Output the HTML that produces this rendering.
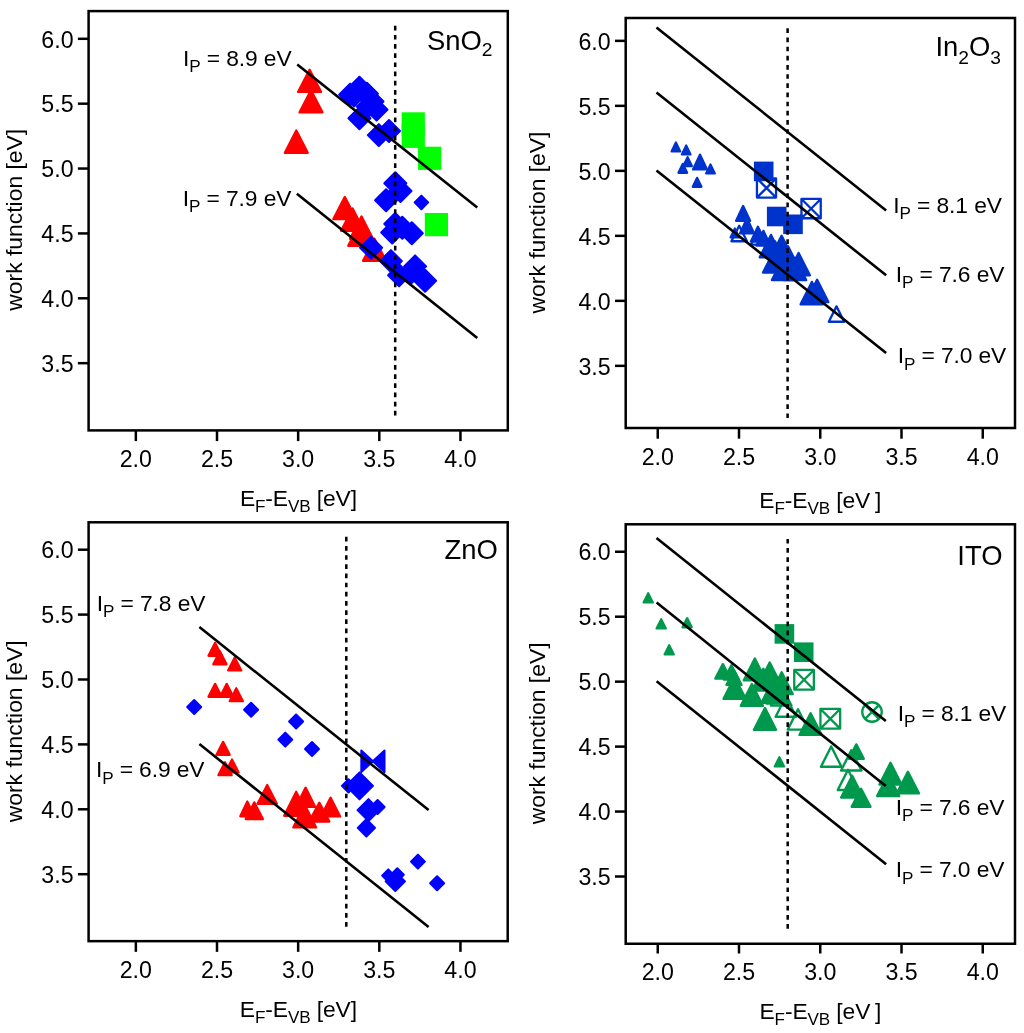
<!DOCTYPE html>
<html><head><meta charset="utf-8"><title>work function vs Fermi level</title>
<style>
html,body{margin:0;padding:0;background:#fff;}
svg{display:block;}
text{font-family:"Liberation Sans", Arial, Helvetica, sans-serif;fill:#000;}
</style></head><body>
<svg width="1024" height="1033" viewBox="0 0 1024 1033">
<rect x="0" y="0" width="1024" height="1033" fill="#fff"/>
<g id="p1">
<path d="M309.60 69.82L320.99 91.90L298.21 91.90Z" fill="#f00" stroke="#f00" stroke-width="2.4" stroke-linejoin="round"/>
<path d="M311.00 90.32L322.39 112.40L299.61 112.40Z" fill="#f00" stroke="#f00" stroke-width="2.4" stroke-linejoin="round"/>
<path d="M296.30 130.62L307.69 152.70L284.91 152.70Z" fill="#f00" stroke="#f00" stroke-width="2.4" stroke-linejoin="round"/>
<path d="M344.80 197.02L356.19 219.10L333.41 219.10Z" fill="#f00" stroke="#f00" stroke-width="2.4" stroke-linejoin="round"/>
<path d="M352.60 208.62L363.99 230.70L341.21 230.70Z" fill="#f00" stroke="#f00" stroke-width="2.4" stroke-linejoin="round"/>
<path d="M361.50 216.62L372.89 238.70L350.11 238.70Z" fill="#f00" stroke="#f00" stroke-width="2.4" stroke-linejoin="round"/>
<path d="M359.70 223.72L371.09 245.80L348.31 245.80Z" fill="#f00" stroke="#f00" stroke-width="2.4" stroke-linejoin="round"/>
<path d="M374.50 238.72L385.89 260.80L363.11 260.80Z" fill="#f00" stroke="#f00" stroke-width="2.4" stroke-linejoin="round"/>
<rect x="401.65" y="112.30" width="23.2" height="23.2" fill="#0f0"/>
<rect x="401.65" y="124.70" width="23.2" height="23.2" fill="#0f0"/>
<rect x="418.05" y="146.70" width="23.2" height="23.2" fill="#0f0"/>
<rect x="424.80" y="213.00" width="23.2" height="23.2" fill="#0f0"/>
<path d="M359.45 76.75L370.45 87.75L359.45 98.75L348.45 87.75Z" fill="#00f" stroke="#00f" stroke-width="2.0" stroke-linejoin="round"/>
<path d="M350.10 83.60L361.10 94.60L350.10 105.60L339.10 94.60Z" fill="#00f" stroke="#00f" stroke-width="2.0" stroke-linejoin="round"/>
<path d="M354.00 84.50L365.00 95.50L354.00 106.50L343.00 95.50Z" fill="#00f" stroke="#00f" stroke-width="2.0" stroke-linejoin="round"/>
<path d="M366.95 82.76L377.95 93.76L366.95 104.76L355.95 93.76Z" fill="#00f" stroke="#00f" stroke-width="2.0" stroke-linejoin="round"/>
<path d="M367.80 95.60L378.80 106.60L367.80 117.60L356.80 106.60Z" fill="#00f" stroke="#00f" stroke-width="2.0" stroke-linejoin="round"/>
<path d="M376.60 98.60L387.60 109.60L376.60 120.60L365.60 109.60Z" fill="#00f" stroke="#00f" stroke-width="2.0" stroke-linejoin="round"/>
<path d="M372.50 90.50L383.50 101.50L372.50 112.50L361.50 101.50Z" fill="#00f" stroke="#00f" stroke-width="2.0" stroke-linejoin="round"/>
<path d="M359.45 107.30L370.45 118.30L359.45 129.30L348.45 118.30Z" fill="#00f" stroke="#00f" stroke-width="2.0" stroke-linejoin="round"/>
<path d="M378.80 124.15L389.80 135.15L378.80 146.15L367.80 135.15Z" fill="#00f" stroke="#00f" stroke-width="2.0" stroke-linejoin="round"/>
<path d="M389.00 120.00L400.00 131.00L389.00 142.00L378.00 131.00Z" fill="#00f" stroke="#00f" stroke-width="2.0" stroke-linejoin="round"/>
<path d="M395.30 172.20L406.30 183.20L395.30 194.20L384.30 183.20Z" fill="#00f" stroke="#00f" stroke-width="2.0" stroke-linejoin="round"/>
<path d="M400.50 180.00L411.50 191.00L400.50 202.00L389.50 191.00Z" fill="#00f" stroke="#00f" stroke-width="2.0" stroke-linejoin="round"/>
<path d="M386.10 189.30L397.10 200.30L386.10 211.30L375.10 200.30Z" fill="#00f" stroke="#00f" stroke-width="2.0" stroke-linejoin="round"/>
<path d="M395.20 212.90L406.20 223.90L395.20 234.90L384.20 223.90Z" fill="#00f" stroke="#00f" stroke-width="2.0" stroke-linejoin="round"/>
<path d="M392.20 221.50L403.20 232.50L392.20 243.50L381.20 232.50Z" fill="#00f" stroke="#00f" stroke-width="2.0" stroke-linejoin="round"/>
<path d="M411.80 222.25L422.80 233.25L411.80 244.25L400.80 233.25Z" fill="#00f" stroke="#00f" stroke-width="2.0" stroke-linejoin="round"/>
<path d="M402.30 216.80L413.30 227.80L402.30 238.80L391.30 227.80Z" fill="#00f" stroke="#00f" stroke-width="2.0" stroke-linejoin="round"/>
<path d="M421.40 195.60L428.20 202.40L421.40 209.20L414.60 202.40Z" fill="#00f" stroke="#00f" stroke-width="2.0" stroke-linejoin="round"/>
<path d="M371.10 236.70L382.10 247.70L371.10 258.70L360.10 247.70Z" fill="#00f" stroke="#00f" stroke-width="2.0" stroke-linejoin="round"/>
<path d="M390.90 250.10L401.90 261.10L390.90 272.10L379.90 261.10Z" fill="#00f" stroke="#00f" stroke-width="2.0" stroke-linejoin="round"/>
<path d="M399.10 264.30L410.10 275.30L399.10 286.30L388.10 275.30Z" fill="#00f" stroke="#00f" stroke-width="2.0" stroke-linejoin="round"/>
<path d="M415.10 255.40L426.10 266.40L415.10 277.40L404.10 266.40Z" fill="#00f" stroke="#00f" stroke-width="2.0" stroke-linejoin="round"/>
<path d="M425.10 269.80L436.10 280.80L425.10 291.80L414.10 280.80Z" fill="#00f" stroke="#00f" stroke-width="2.0" stroke-linejoin="round"/>
<path d="M410.70 262.00L421.70 273.00L410.70 284.00L399.70 273.00Z" fill="#00f" stroke="#00f" stroke-width="2.0" stroke-linejoin="round"/>
<line x1="297.25" y1="64.50" x2="477.25" y2="207.50" stroke="#000" stroke-width="2.6"/>
<line x1="296.90" y1="193.80" x2="477.25" y2="338.00" stroke="#000" stroke-width="2.6"/>
<line x1="395.20" y1="25.74" x2="395.20" y2="415.56" stroke="#000" stroke-width="2.5" stroke-dasharray="4.7 4.4695"/>
<rect x="88.6" y="11.1" width="419.20" height="419.30" fill="none" stroke="#000" stroke-width="2.5"/>
<line x1="77.90" y1="363.18" x2="88.6" y2="363.18" stroke="#000" stroke-width="2.5"/>
<text x="73.60" y="371.88" font-size="23.2" text-anchor="end">3.5</text>
<line x1="77.90" y1="298.30" x2="88.6" y2="298.30" stroke="#000" stroke-width="2.5"/>
<text x="73.60" y="307.00" font-size="23.2" text-anchor="end">4.0</text>
<line x1="77.90" y1="233.43" x2="88.6" y2="233.43" stroke="#000" stroke-width="2.5"/>
<text x="73.60" y="242.12" font-size="23.2" text-anchor="end">4.5</text>
<line x1="77.90" y1="168.55" x2="88.6" y2="168.55" stroke="#000" stroke-width="2.5"/>
<text x="73.60" y="177.25" font-size="23.2" text-anchor="end">5.0</text>
<line x1="77.90" y1="103.67" x2="88.6" y2="103.67" stroke="#000" stroke-width="2.5"/>
<text x="73.60" y="112.38" font-size="23.2" text-anchor="end">5.5</text>
<line x1="77.90" y1="38.80" x2="88.6" y2="38.80" stroke="#000" stroke-width="2.5"/>
<text x="73.60" y="47.50" font-size="23.2" text-anchor="end">6.0</text>
<line x1="135.85" y1="430.4" x2="135.85" y2="441.10" stroke="#000" stroke-width="2.5"/>
<text x="135.85" y="466.80" font-size="23.2" text-anchor="middle">2.0</text>
<line x1="217.00" y1="430.4" x2="217.00" y2="441.10" stroke="#000" stroke-width="2.5"/>
<text x="217.00" y="466.80" font-size="23.2" text-anchor="middle">2.5</text>
<line x1="298.15" y1="430.4" x2="298.15" y2="441.10" stroke="#000" stroke-width="2.5"/>
<text x="298.15" y="466.80" font-size="23.2" text-anchor="middle">3.0</text>
<line x1="379.30" y1="430.4" x2="379.30" y2="441.10" stroke="#000" stroke-width="2.5"/>
<text x="379.30" y="466.80" font-size="23.2" text-anchor="middle">3.5</text>
<line x1="460.45" y1="430.4" x2="460.45" y2="441.10" stroke="#000" stroke-width="2.5"/>
<text x="460.45" y="466.80" font-size="23.2" text-anchor="middle">4.0</text>
<text x="183.0" y="65.80" font-size="22.8" letter-spacing="-0.1">I<tspan font-size="17.1" dy="6.4">P</tspan><tspan dy="-6.4"> = 8.9 eV</tspan></text>
<text x="182.8" y="205.80" font-size="22.8" letter-spacing="-0.1">I<tspan font-size="17.1" dy="6.4">P</tspan><tspan dy="-6.4"> = 7.9 eV</tspan></text>
<text x="427.00" y="49.70" font-size="27.4">SnO<tspan font-size="19.2" dy="6.7">2</tspan></text>
<text x="298.45" y="505.60" font-size="22.8" letter-spacing="-0.1" text-anchor="middle">E<tspan font-size="17.1" dy="6.4">F</tspan><tspan dy="-6.4">-E</tspan><tspan font-size="17.1" dy="6.4">VB</tspan><tspan dy="-6.4"> [eV]</tspan></text>
<text transform="translate(22.40 219.75) rotate(-90)" font-size="22.9" text-anchor="middle">work function [eV]</text>
</g>
<g id="p2">
<path d="M739.20 225.66L746.99 241.25L731.41 241.25Z" fill="none" stroke="#0033cc" stroke-width="2.3" stroke-linejoin="round"/>
<path d="M758.70 229.06L766.49 244.65L750.91 244.65Z" fill="none" stroke="#0033cc" stroke-width="2.3" stroke-linejoin="round"/>
<path d="M775.00 241.26L782.79 256.85L767.21 256.85Z" fill="none" stroke="#0033cc" stroke-width="2.3" stroke-linejoin="round"/>
<path d="M675.90 142.41L680.25 151.40L671.55 151.40Z" fill="#0033cc" stroke="#0033cc" stroke-width="2.2" stroke-linejoin="round"/>
<path d="M686.20 145.41L690.55 154.40L681.86 154.40Z" fill="#0033cc" stroke="#0033cc" stroke-width="2.2" stroke-linejoin="round"/>
<path d="M687.60 157.11L691.95 166.10L683.25 166.10Z" fill="#0033cc" stroke="#0033cc" stroke-width="2.2" stroke-linejoin="round"/>
<path d="M682.80 163.81L687.14 172.80L678.45 172.80Z" fill="#0033cc" stroke="#0033cc" stroke-width="2.2" stroke-linejoin="round"/>
<path d="M710.50 164.41L714.85 173.40L706.15 173.40Z" fill="#0033cc" stroke="#0033cc" stroke-width="2.2" stroke-linejoin="round"/>
<path d="M697.10 177.81L701.45 186.80L692.75 186.80Z" fill="#0033cc" stroke="#0033cc" stroke-width="2.2" stroke-linejoin="round"/>
<path d="M700.00 154.72L706.94 169.40L693.06 169.40Z" fill="#0033cc" stroke="#0033cc" stroke-width="2.4" stroke-linejoin="round"/>
<path d="M734.90 228.41L739.25 237.40L730.55 237.40Z" fill="#0033cc" stroke="#0033cc" stroke-width="2.2" stroke-linejoin="round"/>
<path d="M743.10 206.12L750.04 220.80L736.16 220.80Z" fill="#0033cc" stroke="#0033cc" stroke-width="2.4" stroke-linejoin="round"/>
<path d="M747.00 218.62L753.94 233.30L740.06 233.30Z" fill="#0033cc" stroke="#0033cc" stroke-width="2.4" stroke-linejoin="round"/>
<path d="M757.90 226.82L764.84 241.50L750.96 241.50Z" fill="#0033cc" stroke="#0033cc" stroke-width="2.4" stroke-linejoin="round"/>
<path d="M763.40 230.92L770.34 245.60L756.46 245.60Z" fill="#0033cc" stroke="#0033cc" stroke-width="2.4" stroke-linejoin="round"/>
<path d="M771.00 234.92L782.24 257.20L759.76 257.20Z" fill="#0033cc" stroke="#0033cc" stroke-width="2.4" stroke-linejoin="round"/>
<path d="M781.60 235.72L792.84 258.00L770.36 258.00Z" fill="#0033cc" stroke="#0033cc" stroke-width="2.4" stroke-linejoin="round"/>
<path d="M774.30 250.32L785.54 272.60L763.06 272.60Z" fill="#0033cc" stroke="#0033cc" stroke-width="2.4" stroke-linejoin="round"/>
<path d="M783.20 257.82L794.44 280.10L771.96 280.10Z" fill="#0033cc" stroke="#0033cc" stroke-width="2.4" stroke-linejoin="round"/>
<path d="M794.90 257.82L806.14 280.10L783.66 280.10Z" fill="#0033cc" stroke="#0033cc" stroke-width="2.4" stroke-linejoin="round"/>
<path d="M798.60 253.02L809.84 275.30L787.36 275.30Z" fill="#0033cc" stroke="#0033cc" stroke-width="2.4" stroke-linejoin="round"/>
<path d="M788.00 246.32L799.24 268.60L776.76 268.60Z" fill="#0033cc" stroke="#0033cc" stroke-width="2.4" stroke-linejoin="round"/>
<path d="M817.10 279.72L828.34 302.00L805.86 302.00Z" fill="#0033cc" stroke="#0033cc" stroke-width="2.4" stroke-linejoin="round"/>
<path d="M811.90 281.92L823.14 304.20L800.66 304.20Z" fill="#0033cc" stroke="#0033cc" stroke-width="2.4" stroke-linejoin="round"/>
<path d="M836.50 306.37L844.19 321.75L828.81 321.75Z" fill="none" stroke="#0033cc" stroke-width="2.3" stroke-linejoin="round"/>
<rect x="753.90" y="161.60" width="19.6" height="19.6" fill="#0033cc"/>
<rect x="766.90" y="206.70" width="19.6" height="19.6" fill="#0033cc"/>
<rect x="783.20" y="214.50" width="19.6" height="19.6" fill="#0033cc"/>
<path d="M756.95 178.45h19.10v19.10h-19.10ZM756.95 178.45l19.10 19.10M776.05 178.45l-19.10 19.10" fill="none" stroke="#0033cc" stroke-width="2.3" stroke-linejoin="round"/>
<path d="M801.45 198.95h19.30v19.30h-19.30ZM801.45 198.95l19.30 19.30M820.75 198.95l-19.30 19.30" fill="none" stroke="#0033cc" stroke-width="2.3" stroke-linejoin="round"/>
<line x1="656.50" y1="27.50" x2="886.15" y2="210.60" stroke="#000" stroke-width="2.6"/>
<line x1="656.50" y1="92.50" x2="886.15" y2="275.30" stroke="#000" stroke-width="2.6"/>
<line x1="656.50" y1="170.50" x2="886.15" y2="353.00" stroke="#000" stroke-width="2.6"/>
<line x1="787.60" y1="28.30" x2="787.60" y2="418.10" stroke="#000" stroke-width="2.5" stroke-dasharray="4.7 4.4690"/>
<rect x="625.7" y="18.0" width="389.30" height="410.00" fill="none" stroke="#000" stroke-width="2.5"/>
<line x1="615.00" y1="365.85" x2="625.7" y2="365.85" stroke="#000" stroke-width="2.5"/>
<text x="610.70" y="374.55" font-size="23.2" text-anchor="end">3.5</text>
<line x1="615.00" y1="300.85" x2="625.7" y2="300.85" stroke="#000" stroke-width="2.5"/>
<text x="610.70" y="309.55" font-size="23.2" text-anchor="end">4.0</text>
<line x1="615.00" y1="235.85" x2="625.7" y2="235.85" stroke="#000" stroke-width="2.5"/>
<text x="610.70" y="244.55" font-size="23.2" text-anchor="end">4.5</text>
<line x1="615.00" y1="170.85" x2="625.7" y2="170.85" stroke="#000" stroke-width="2.5"/>
<text x="610.70" y="179.55" font-size="23.2" text-anchor="end">5.0</text>
<line x1="615.00" y1="105.85" x2="625.7" y2="105.85" stroke="#000" stroke-width="2.5"/>
<text x="610.70" y="114.55" font-size="23.2" text-anchor="end">5.5</text>
<line x1="615.00" y1="40.85" x2="625.7" y2="40.85" stroke="#000" stroke-width="2.5"/>
<text x="610.70" y="49.55" font-size="23.2" text-anchor="end">6.0</text>
<line x1="657.75" y1="428" x2="657.75" y2="438.70" stroke="#000" stroke-width="2.5"/>
<text x="657.75" y="464.70" font-size="23.2" text-anchor="middle">2.0</text>
<line x1="739.00" y1="428" x2="739.00" y2="438.70" stroke="#000" stroke-width="2.5"/>
<text x="739.00" y="464.70" font-size="23.2" text-anchor="middle">2.5</text>
<line x1="820.25" y1="428" x2="820.25" y2="438.70" stroke="#000" stroke-width="2.5"/>
<text x="820.25" y="464.70" font-size="23.2" text-anchor="middle">3.0</text>
<line x1="901.50" y1="428" x2="901.50" y2="438.70" stroke="#000" stroke-width="2.5"/>
<text x="901.50" y="464.70" font-size="23.2" text-anchor="middle">3.5</text>
<line x1="982.75" y1="428" x2="982.75" y2="438.70" stroke="#000" stroke-width="2.5"/>
<text x="982.75" y="464.70" font-size="23.2" text-anchor="middle">4.0</text>
<text x="893.3" y="213.00" font-size="22.8" letter-spacing="-0.1">I<tspan font-size="17.1" dy="6.4">P</tspan><tspan dy="-6.4"> = 8.1 eV</tspan></text>
<text x="895.8" y="281.80" font-size="22.8" letter-spacing="-0.1">I<tspan font-size="17.1" dy="6.4">P</tspan><tspan dy="-6.4"> = 7.6 eV</tspan></text>
<text x="897.7" y="363.20" font-size="22.8" letter-spacing="-0.1">I<tspan font-size="17.1" dy="6.4">P</tspan><tspan dy="-6.4"> = 7.0 eV</tspan></text>
<text x="935.50" y="56.20" font-size="27.4">In<tspan font-size="19.2" dy="7.9">2</tspan><tspan dy="-7.9">O</tspan><tspan font-size="19.2" dy="7.9">3</tspan></text>
<text x="820.30" y="508.00" font-size="22.8" letter-spacing="-0.1" text-anchor="middle">E<tspan font-size="17.1" dy="6.4">F</tspan><tspan dy="-6.4">-E</tspan><tspan font-size="17.1" dy="6.4">VB</tspan><tspan dy="-6.4"> [eV <tspan dx="-1.4">]</tspan></tspan></text>
<text transform="translate(545.00 222.50) rotate(-90)" font-size="22.9" text-anchor="middle">work function [eV]</text>
</g>
<g id="p3">
<path d="M215.10 642.81L221.75 655.80L208.45 655.80Z" fill="#ff0000" stroke="#ff0000" stroke-width="2.2" stroke-linejoin="round"/>
<path d="M219.90 651.31L226.55 664.30L213.25 664.30Z" fill="#ff0000" stroke="#ff0000" stroke-width="2.2" stroke-linejoin="round"/>
<path d="M234.70 657.41L241.34 670.40L228.05 670.40Z" fill="#ff0000" stroke="#ff0000" stroke-width="2.2" stroke-linejoin="round"/>
<path d="M215.10 683.81L221.75 696.80L208.45 696.80Z" fill="#ff0000" stroke="#ff0000" stroke-width="2.2" stroke-linejoin="round"/>
<path d="M226.70 683.81L233.34 696.80L220.05 696.80Z" fill="#ff0000" stroke="#ff0000" stroke-width="2.2" stroke-linejoin="round"/>
<path d="M236.30 688.21L242.95 701.20L229.66 701.20Z" fill="#ff0000" stroke="#ff0000" stroke-width="2.2" stroke-linejoin="round"/>
<path d="M223.10 741.81L229.75 754.80L216.45 754.80Z" fill="#ff0000" stroke="#ff0000" stroke-width="2.2" stroke-linejoin="round"/>
<path d="M232.00 759.41L238.65 772.40L225.35 772.40Z" fill="#ff0000" stroke="#ff0000" stroke-width="2.2" stroke-linejoin="round"/>
<path d="M225.00 762.21L231.65 775.20L218.35 775.20Z" fill="#ff0000" stroke="#ff0000" stroke-width="2.2" stroke-linejoin="round"/>
<path d="M267.20 785.01L276.90 803.80L257.50 803.80Z" fill="#ff0000" stroke="#ff0000" stroke-width="2.2" stroke-linejoin="round"/>
<path d="M247.30 801.41L254.34 816.30L240.26 816.30Z" fill="#ff0000" stroke="#ff0000" stroke-width="2.2" stroke-linejoin="round"/>
<path d="M254.30 802.31L262.90 819.10L245.71 819.10Z" fill="#ff0000" stroke="#ff0000" stroke-width="2.2" stroke-linejoin="round"/>
<path d="M296.20 791.71L308.30 815.80L284.10 815.80Z" fill="#ff0000" stroke="#ff0000" stroke-width="2.2" stroke-linejoin="round"/>
<path d="M305.60 787.61L315.30 807.00L295.90 807.00Z" fill="#ff0000" stroke="#ff0000" stroke-width="2.2" stroke-linejoin="round"/>
<path d="M304.70 804.71L316.15 827.40L293.25 827.40Z" fill="#ff0000" stroke="#ff0000" stroke-width="2.2" stroke-linejoin="round"/>
<path d="M319.30 802.61L329.40 821.60L309.20 821.60Z" fill="#ff0000" stroke="#ff0000" stroke-width="2.2" stroke-linejoin="round"/>
<path d="M330.55 797.61L340.20 816.40L320.90 816.40Z" fill="#ff0000" stroke="#ff0000" stroke-width="2.2" stroke-linejoin="round"/>
<path d="M194.20 700.00L201.20 707.00L194.20 714.00L187.20 707.00Z" fill="#00f" stroke="#00f" stroke-width="2.0" stroke-linejoin="round"/>
<path d="M251.10 702.70L258.10 709.70L251.10 716.70L244.10 709.70Z" fill="#00f" stroke="#00f" stroke-width="2.0" stroke-linejoin="round"/>
<path d="M296.10 714.45L303.10 721.45L296.10 728.45L289.10 721.45Z" fill="#00f" stroke="#00f" stroke-width="2.0" stroke-linejoin="round"/>
<path d="M285.30 732.60L292.30 739.60L285.30 746.60L278.30 739.60Z" fill="#00f" stroke="#00f" stroke-width="2.0" stroke-linejoin="round"/>
<path d="M312.00 742.00L319.00 749.00L312.00 756.00L305.00 749.00Z" fill="#00f" stroke="#00f" stroke-width="2.0" stroke-linejoin="round"/>
<path d="M359.50 772.40L373.00 785.90L359.50 799.40L346.00 785.90Z" fill="#00f" stroke="#00f" stroke-width="2.0" stroke-linejoin="round"/>
<path d="M348.50 779.30L355.10 785.90L348.50 792.50L341.90 785.90Z" fill="#00f" stroke="#00f" stroke-width="2.0" stroke-linejoin="round"/>
<path d="M368.50 799.10L379.50 810.10L368.50 821.10L357.50 810.10Z" fill="#00f" stroke="#00f" stroke-width="2.0" stroke-linejoin="round"/>
<path d="M377.60 800.00L384.60 807.00L377.60 814.00L370.60 807.00Z" fill="#00f" stroke="#00f" stroke-width="2.0" stroke-linejoin="round"/>
<path d="M366.40 819.20L375.10 827.90L366.40 836.60L357.70 827.90Z" fill="#00f" stroke="#00f" stroke-width="2.0" stroke-linejoin="round"/>
<path d="M417.90 854.60L424.90 861.60L417.90 868.60L410.90 861.60Z" fill="#00f" stroke="#00f" stroke-width="2.0" stroke-linejoin="round"/>
<path d="M437.10 876.30L444.10 883.30L437.10 890.30L430.10 883.30Z" fill="#00f" stroke="#00f" stroke-width="2.0" stroke-linejoin="round"/>
<path d="M388.30 869.40L394.50 875.60L388.30 881.80L382.10 875.60Z" fill="#00f" stroke="#00f" stroke-width="2.0" stroke-linejoin="round"/>
<path d="M397.30 868.30L403.80 874.80L397.30 881.30L390.80 874.80Z" fill="#00f" stroke="#00f" stroke-width="2.0" stroke-linejoin="round"/>
<path d="M395.30 871.65L405.00 881.35L395.30 891.05L385.60 881.35Z" fill="#00f" stroke="#00f" stroke-width="2.0" stroke-linejoin="round"/>
<path d="M361.30 750.40L372.90 761.25L361.30 772.10ZM384.50 750.40L372.90 761.25L384.50 772.10Z" fill="#00f" stroke="#00f" stroke-width="2" stroke-linejoin="round"/>
<line x1="199.40" y1="627.10" x2="428.60" y2="810.10" stroke="#000" stroke-width="2.6"/>
<line x1="199.40" y1="744.10" x2="428.60" y2="927.00" stroke="#000" stroke-width="2.6"/>
<line x1="346.30" y1="536.80" x2="346.30" y2="926.80" stroke="#000" stroke-width="2.5" stroke-dasharray="4.7 4.4738"/>
<rect x="88.6" y="522.3" width="419.10" height="418.85" fill="none" stroke="#000" stroke-width="2.5"/>
<line x1="77.90" y1="874.20" x2="88.6" y2="874.20" stroke="#000" stroke-width="2.5"/>
<text x="73.60" y="882.90" font-size="23.2" text-anchor="end">3.5</text>
<line x1="77.90" y1="809.30" x2="88.6" y2="809.30" stroke="#000" stroke-width="2.5"/>
<text x="73.60" y="818.00" font-size="23.2" text-anchor="end">4.0</text>
<line x1="77.90" y1="744.40" x2="88.6" y2="744.40" stroke="#000" stroke-width="2.5"/>
<text x="73.60" y="753.10" font-size="23.2" text-anchor="end">4.5</text>
<line x1="77.90" y1="679.50" x2="88.6" y2="679.50" stroke="#000" stroke-width="2.5"/>
<text x="73.60" y="688.20" font-size="23.2" text-anchor="end">5.0</text>
<line x1="77.90" y1="614.60" x2="88.6" y2="614.60" stroke="#000" stroke-width="2.5"/>
<text x="73.60" y="623.30" font-size="23.2" text-anchor="end">5.5</text>
<line x1="77.90" y1="549.70" x2="88.6" y2="549.70" stroke="#000" stroke-width="2.5"/>
<text x="73.60" y="558.40" font-size="23.2" text-anchor="end">6.0</text>
<line x1="135.85" y1="941.15" x2="135.85" y2="951.85" stroke="#000" stroke-width="2.5"/>
<text x="135.85" y="977.85" font-size="23.2" text-anchor="middle">2.0</text>
<line x1="217.00" y1="941.15" x2="217.00" y2="951.85" stroke="#000" stroke-width="2.5"/>
<text x="217.00" y="977.85" font-size="23.2" text-anchor="middle">2.5</text>
<line x1="298.15" y1="941.15" x2="298.15" y2="951.85" stroke="#000" stroke-width="2.5"/>
<text x="298.15" y="977.85" font-size="23.2" text-anchor="middle">3.0</text>
<line x1="379.30" y1="941.15" x2="379.30" y2="951.85" stroke="#000" stroke-width="2.5"/>
<text x="379.30" y="977.85" font-size="23.2" text-anchor="middle">3.5</text>
<line x1="460.45" y1="941.15" x2="460.45" y2="951.85" stroke="#000" stroke-width="2.5"/>
<text x="460.45" y="977.85" font-size="23.2" text-anchor="middle">4.0</text>
<text x="96.8" y="610.90" font-size="22.8" letter-spacing="-0.1">I<tspan font-size="17.1" dy="6.4">P</tspan><tspan dy="-6.4"> = 7.8 eV</tspan></text>
<text x="95.9" y="777.10" font-size="22.8" letter-spacing="-0.1">I<tspan font-size="17.1" dy="6.4">P</tspan><tspan dy="-6.4"> = 6.9 eV</tspan></text>
<text x="444.50" y="559.40" font-size="27.4">ZnO</text>
<text x="298.35" y="1016.70" font-size="22.8" letter-spacing="-0.1" text-anchor="middle">E<tspan font-size="17.1" dy="6.4">F</tspan><tspan dy="-6.4">-E</tspan><tspan font-size="17.1" dy="6.4">VB</tspan><tspan dy="-6.4"> [eV]</tspan></text>
<text transform="translate(22.40 731.30) rotate(-90)" font-size="22.9" text-anchor="middle">work function [eV]</text>
</g>
<g id="p4">
<path d="M781.20 685.32L791.44 705.60L770.96 705.60Z" fill="none" stroke="#00984c" stroke-width="2.4" stroke-linejoin="round"/>
<path d="M785.90 696.52L796.14 716.80L775.66 716.80Z" fill="none" stroke="#00984c" stroke-width="2.4" stroke-linejoin="round"/>
<path d="M798.00 709.32L808.24 729.60L787.76 729.60Z" fill="none" stroke="#00984c" stroke-width="2.4" stroke-linejoin="round"/>
<path d="M831.20 746.42L841.44 766.70L820.96 766.70Z" fill="none" stroke="#00984c" stroke-width="2.4" stroke-linejoin="round"/>
<path d="M851.30 750.22L861.54 770.50L841.06 770.50Z" fill="none" stroke="#00984c" stroke-width="2.4" stroke-linejoin="round"/>
<path d="M848.00 769.72L858.24 790.00L837.76 790.00Z" fill="none" stroke="#00984c" stroke-width="2.4" stroke-linejoin="round"/>
<path d="M648.20 593.21L652.85 602.40L643.56 602.40Z" fill="#00984c" stroke="#00984c" stroke-width="2.2" stroke-linejoin="round"/>
<path d="M661.20 619.21L665.85 628.40L656.56 628.40Z" fill="#00984c" stroke="#00984c" stroke-width="2.2" stroke-linejoin="round"/>
<path d="M687.15 618.11L691.79 627.30L682.50 627.30Z" fill="#00984c" stroke="#00984c" stroke-width="2.2" stroke-linejoin="round"/>
<path d="M669.20 645.21L673.85 654.40L664.56 654.40Z" fill="#00984c" stroke="#00984c" stroke-width="2.2" stroke-linejoin="round"/>
<path d="M779.40 757.21L784.04 766.40L774.75 766.40Z" fill="#00984c" stroke="#00984c" stroke-width="2.2" stroke-linejoin="round"/>
<path d="M722.85 664.17L730.34 678.45L715.36 678.45Z" fill="#00984c" stroke="#00984c" stroke-width="2.4" stroke-linejoin="round"/>
<path d="M731.40 665.32L738.89 679.60L723.91 679.60Z" fill="#00984c" stroke="#00984c" stroke-width="2.4" stroke-linejoin="round"/>
<path d="M734.00 670.62L741.49 684.90L726.51 684.90Z" fill="#00984c" stroke="#00984c" stroke-width="2.4" stroke-linejoin="round"/>
<path d="M856.30 744.42L863.79 758.70L848.81 758.70Z" fill="#00984c" stroke="#00984c" stroke-width="2.4" stroke-linejoin="round"/>
<path d="M734.60 677.12L745.64 698.80L723.56 698.80Z" fill="#00984c" stroke="#00984c" stroke-width="2.4" stroke-linejoin="round"/>
<path d="M751.90 684.12L762.94 705.80L740.86 705.80Z" fill="#00984c" stroke="#00984c" stroke-width="2.4" stroke-linejoin="round"/>
<path d="M754.85 658.62L765.89 680.30L743.81 680.30Z" fill="#00984c" stroke="#00984c" stroke-width="2.4" stroke-linejoin="round"/>
<path d="M763.30 668.82L774.34 690.50L752.26 690.50Z" fill="#00984c" stroke="#00984c" stroke-width="2.4" stroke-linejoin="round"/>
<path d="M769.70 662.62L780.74 684.30L758.66 684.30Z" fill="#00984c" stroke="#00984c" stroke-width="2.4" stroke-linejoin="round"/>
<path d="M781.70 672.37L792.74 694.05L770.66 694.05Z" fill="#00984c" stroke="#00984c" stroke-width="2.4" stroke-linejoin="round"/>
<path d="M772.50 681.12L783.54 702.80L761.46 702.80Z" fill="#00984c" stroke="#00984c" stroke-width="2.4" stroke-linejoin="round"/>
<path d="M777.50 681.82L788.54 703.50L766.46 703.50Z" fill="#00984c" stroke="#00984c" stroke-width="2.4" stroke-linejoin="round"/>
<path d="M765.00 708.12L776.04 729.80L753.96 729.80Z" fill="#00984c" stroke="#00984c" stroke-width="2.4" stroke-linejoin="round"/>
<path d="M810.60 713.22L821.64 734.90L799.56 734.90Z" fill="#00984c" stroke="#00984c" stroke-width="2.4" stroke-linejoin="round"/>
<path d="M852.20 775.82L863.24 797.50L841.16 797.50Z" fill="#00984c" stroke="#00984c" stroke-width="2.4" stroke-linejoin="round"/>
<path d="M890.50 762.82L901.54 784.50L879.46 784.50Z" fill="#00984c" stroke="#00984c" stroke-width="2.4" stroke-linejoin="round"/>
<path d="M888.20 774.42L899.24 796.10L877.16 796.10Z" fill="#00984c" stroke="#00984c" stroke-width="2.4" stroke-linejoin="round"/>
<path d="M907.90 771.72L918.94 793.40L896.86 793.40Z" fill="#00984c" stroke="#00984c" stroke-width="2.4" stroke-linejoin="round"/>
<path d="M861.10 788.82L870.49 806.80L851.71 806.80Z" fill="#00984c" stroke="#00984c" stroke-width="2.4" stroke-linejoin="round"/>
<rect x="774.60" y="624.10" width="19.6" height="19.6" fill="#00984c"/>
<rect x="793.90" y="642.40" width="19.6" height="19.6" fill="#00984c"/>
<path d="M794.25 669.95h19.60v19.60h-19.60ZM794.25 669.95l19.60 19.60M813.85 669.95l-19.60 19.60" fill="none" stroke="#00984c" stroke-width="2.3" stroke-linejoin="round"/>
<path d="M820.45 708.95h19.70v19.70h-19.70ZM820.45 708.95l19.70 19.70M840.15 708.95l-19.70 19.70" fill="none" stroke="#00984c" stroke-width="2.3" stroke-linejoin="round"/>
<circle cx="872.00" cy="712.00" r="9.75" fill="none" stroke="#00984c" stroke-width="2.3"/>
<path d="M865.11 705.11L878.89 718.89M878.89 705.11L865.11 718.89" fill="none" stroke="#00984c" stroke-width="2.3"/>
<line x1="656.50" y1="538.00" x2="885.80" y2="721.10" stroke="#000" stroke-width="2.6"/>
<line x1="656.60" y1="602.60" x2="885.80" y2="786.10" stroke="#000" stroke-width="2.6"/>
<line x1="656.60" y1="681.20" x2="886.15" y2="864.30" stroke="#000" stroke-width="2.6"/>
<line x1="787.70" y1="538.90" x2="787.70" y2="928.80" stroke="#000" stroke-width="2.5" stroke-dasharray="4.7 4.4714"/>
<rect x="625.7" y="524.3" width="389.30" height="419.45" fill="none" stroke="#000" stroke-width="2.5"/>
<line x1="615.00" y1="876.50" x2="625.7" y2="876.50" stroke="#000" stroke-width="2.5"/>
<text x="610.70" y="885.20" font-size="23.2" text-anchor="end">3.5</text>
<line x1="615.00" y1="811.55" x2="625.7" y2="811.55" stroke="#000" stroke-width="2.5"/>
<text x="610.70" y="820.25" font-size="23.2" text-anchor="end">4.0</text>
<line x1="615.00" y1="746.60" x2="625.7" y2="746.60" stroke="#000" stroke-width="2.5"/>
<text x="610.70" y="755.30" font-size="23.2" text-anchor="end">4.5</text>
<line x1="615.00" y1="681.65" x2="625.7" y2="681.65" stroke="#000" stroke-width="2.5"/>
<text x="610.70" y="690.35" font-size="23.2" text-anchor="end">5.0</text>
<line x1="615.00" y1="616.70" x2="625.7" y2="616.70" stroke="#000" stroke-width="2.5"/>
<text x="610.70" y="625.40" font-size="23.2" text-anchor="end">5.5</text>
<line x1="615.00" y1="551.75" x2="625.7" y2="551.75" stroke="#000" stroke-width="2.5"/>
<text x="610.70" y="560.45" font-size="23.2" text-anchor="end">6.0</text>
<line x1="657.75" y1="943.75" x2="657.75" y2="953.50" stroke="#000" stroke-width="2.5"/>
<text x="657.75" y="980.00" font-size="23.2" text-anchor="middle">2.0</text>
<line x1="739.00" y1="943.75" x2="739.00" y2="953.50" stroke="#000" stroke-width="2.5"/>
<text x="739.00" y="980.00" font-size="23.2" text-anchor="middle">2.5</text>
<line x1="820.25" y1="943.75" x2="820.25" y2="953.50" stroke="#000" stroke-width="2.5"/>
<text x="820.25" y="980.00" font-size="23.2" text-anchor="middle">3.0</text>
<line x1="901.50" y1="943.75" x2="901.50" y2="953.50" stroke="#000" stroke-width="2.5"/>
<text x="901.50" y="980.00" font-size="23.2" text-anchor="middle">3.5</text>
<line x1="982.75" y1="943.75" x2="982.75" y2="953.50" stroke="#000" stroke-width="2.5"/>
<text x="982.75" y="980.00" font-size="23.2" text-anchor="middle">4.0</text>
<text x="897.7" y="720.50" font-size="22.8" letter-spacing="-0.1">I<tspan font-size="17.1" dy="6.4">P</tspan><tspan dy="-6.4"> = 8.1 eV</tspan></text>
<text x="895.8" y="814.50" font-size="22.8" letter-spacing="-0.1">I<tspan font-size="17.1" dy="6.4">P</tspan><tspan dy="-6.4"> = 7.6 eV</tspan></text>
<text x="895.8" y="877.40" font-size="22.8" letter-spacing="-0.1">I<tspan font-size="17.1" dy="6.4">P</tspan><tspan dy="-6.4"> = 7.0 eV</tspan></text>
<text x="957.30" y="565.20" font-size="27.4">ITO</text>
<text x="820.40" y="1018.75" font-size="22.8" letter-spacing="-0.1" text-anchor="middle">E<tspan font-size="17.1" dy="6.4">F</tspan><tspan dy="-6.4">-E</tspan><tspan font-size="17.1" dy="6.4">VB</tspan><tspan dy="-6.4"> [eV <tspan dx="-1.4">]</tspan></tspan></text>
<text transform="translate(545.00 733.40) rotate(-90)" font-size="22.9" text-anchor="middle">work function [eV]</text>
</g>
</svg>
</body></html>
